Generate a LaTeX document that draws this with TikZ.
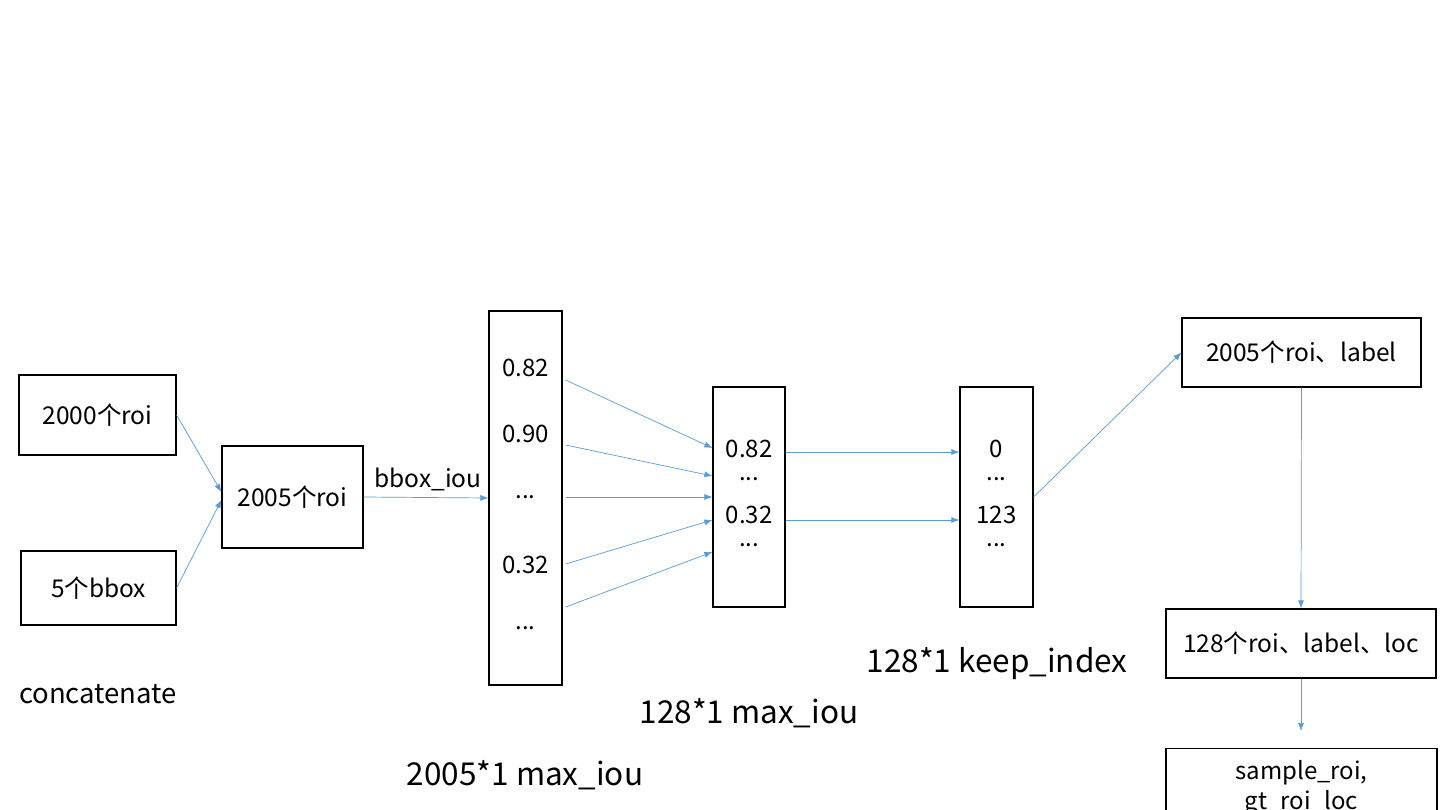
\documentclass[tikz,border=0pt]{standalone}
\usepackage{fontspec}
\setmainfont{Noto Sans CJK SC}
\usepackage{tikz}
\usetikzlibrary{positioning,arrows.meta}
\definecolor{arrblue}{HTML}{5B9BD5}
\tikzset{
  box/.style={draw,line width=1.2pt,inner sep=0pt,font=\fontsize{24.5}{30}\selectfont},
  col/.style={draw,line width=1.2pt,inner sep=0pt},
  val/.style={font=\fontsize{24}{28}\selectfont,inner sep=0pt,text height=17pt,text depth=0pt},
  dots/.style={font=\fontsize{24}{28}\selectfont,inner sep=0pt,text height=3pt,text depth=0pt},
  lbl/.style={font=\fontsize{31.5}{36}\selectfont,inner sep=0pt},
  arr/.style={draw=arrblue,line width=0.7pt,-{Latex[length=8pt,width=6pt]}}
}
\begin{document}
\begin{tikzpicture}[x=1pt,y=-1pt]
  \useasboundingbox[fill=white] (0,0) rectangle (1440,810);
  % input boxes
  \node[box,minimum width=157,minimum height=80] at(97.5,415)(roi){2000个roi};
  \node[box,minimum width=155,minimum height=74] at(98.5,588)(bbox){5个bbox};
  \node[box,minimum width=141,minimum height=102] at(292.5,497)(cat){2005个roi};
  % texts
  \node[font=\fontsize{27.5}{32}\selectfont,inner sep=0pt] at(98,694)(concat){concatenate};
  \node[font=\fontsize{24.5}{28}\selectfont,inner sep=0pt] at(428,479)(iou){bbox\_iou};
  \node[lbl] at(525,775)(all){2005*1 max\_iou};
  \node[lbl] at(749,713)(sel){128*1 max\_iou};
  \node[lbl] at(997,664)(keep){128*1 keep\_index};
  % columns
  \node[col,minimum width=73,minimum height=374] at(525.5,498)(colA){};
  \node[col,minimum width=72,minimum height=220] at(749,497)(colB){};
  \node[col,minimum width=73,minimum height=220] at(996.5,497)(colC){};
  % column values
  \node[val] at(525.5,368)(a1){0.82};
  \node[val] at(525.5,434)(a2){0.90};
  \node[dots] at(525.5,497)(a3){...};
  \node[val] at(525.5,565)(a4){0.32};
  \node[dots] at(525.5,628)(a5){...};
  \node[val] at(749,449)(b1){0.82};
  \node[dots] at(749,479)(b2){...};
  \node[val] at(749,515)(b3){0.32};
  \node[dots] at(749,545)(b4){...};
  \node[val] at(996.5,449)(c1){0};
  \node[dots] at(996.5,479)(c2){...};
  \node[val] at(996.5,515)(c3){123};
  \node[dots] at(996.5,545)(c4){...};
  % output boxes
  \node[box,minimum width=239,minimum height=69] at(1301.5,352.5)(lab){2005个roi、label};
  \node[box,minimum width=270,minimum height=69] at(1301,643.5)(loc){128个roi、label、loc};
  \node[box,anchor=north,minimum width=271,inner ysep=12pt,align=center,
    font=\fontsize{24}{30}\selectfont] at(1301.5,748)(smp){sample\_roi,\\gt\_roi\_loc};
  \coordinate (end) at (1301,731);
  % connectors
  \draw[arr] (roi.east) -- ([yshift=5pt]cat.west);
  \draw[arr] (bbox.east) -- ([yshift=-3pt]cat.west);
  \draw[arr] (cat.east) -- (colA.west);
  \draw[arr] ([xshift=3pt,yshift=118pt]colA.east) -- ([yshift=49pt]colB.west);
  \draw[arr] ([xshift=3pt,yshift=53pt]colA.east) -- ([yshift=21pt]colB.west);
  \draw[arr] ([xshift=3pt,yshift=1pt]colA.east) -- (colB.west);
  \draw[arr] ([xshift=3pt,yshift=-66pt]colA.east) -- ([yshift=-23pt]colB.west);
  \draw[arr] ([xshift=3pt,yshift=-109pt]colA.east) -- ([yshift=-55pt]colB.west);
  \draw[arr] ([yshift=45pt]colB.east) -- ([yshift=45pt]colC.west);
  \draw[arr] ([yshift=-23pt]colB.east) -- ([yshift=-23pt]colC.west);
  \draw[arr] (colC.east) -- (lab.west);
  \draw[arr] (lab.south) -- (loc.north);
  \draw[arr] (loc.south) -- (end);
\end{tikzpicture}
\end{document}
